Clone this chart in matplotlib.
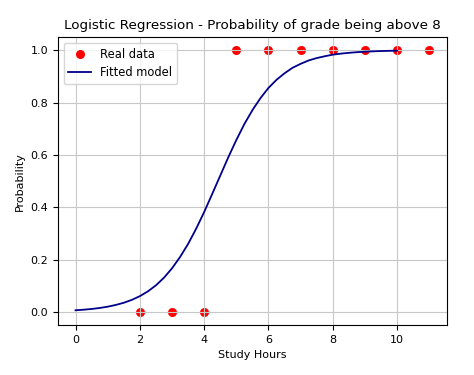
import matplotlib
matplotlib.use("Agg")
from matplotlib import pyplot as plt

# observed data
hours = [2, 3, 4, 5, 6, 7, 8, 9, 10, 11]
passed = [0, 0, 0, 1, 1, 1, 1, 1, 1, 1]

# fitted curve
curve_x = [0, 0.25, 0.5, 0.75, 1, 1.25, 1.5, 1.75, 2, 2.25, 2.5, 2.75, 3, 3.25,
           3.5, 3.75, 4, 4.25, 4.5, 4.75, 5, 5.25, 5.5, 5.75, 6, 6.25, 6.5,
           6.75, 7, 7.25, 7.5, 7.75, 8, 8.25, 8.5, 8.75, 9, 9.25, 9.5, 9.75, 10]
curve_p = [0.0067, 0.0089, 0.0117, 0.0155, 0.0204, 0.0270, 0.0354, 0.0464,
           0.0607, 0.0789, 0.102, 0.131, 0.167, 0.210, 0.260, 0.318, 0.382,
           0.451, 0.521, 0.591, 0.657, 0.718, 0.771, 0.817, 0.856, 0.887,
           0.912, 0.933, 0.948, 0.961, 0.970, 0.977, 0.983, 0.987, 0.990,
           0.9925, 0.9944, 0.9957, 0.9968, 0.9976, 0.9982]

fig = plt.figure(figsize=(4.74, 3.75), dpi=100)
ax = fig.add_axes([0.122, 0.133, 0.821, 0.768])

ax.scatter(hours, passed, color="red", s=30, label="Real data")
ax.plot(curve_x, curve_p, color="darkblue", linewidth=1.3, label="Fitted model")

ax.set_title("Logistic Regression - Probability of grade being above 8", fontsize=9.7)
ax.set_xlabel("Study Hours", fontsize=8)
ax.set_ylabel("Probability", fontsize=8)
ax.tick_params(labelsize=8)
ax.legend(loc="upper left", fontsize=8.3)
ax.grid(True, color="#c8c8c8")

fig.savefig("out.png", dpi=100)
